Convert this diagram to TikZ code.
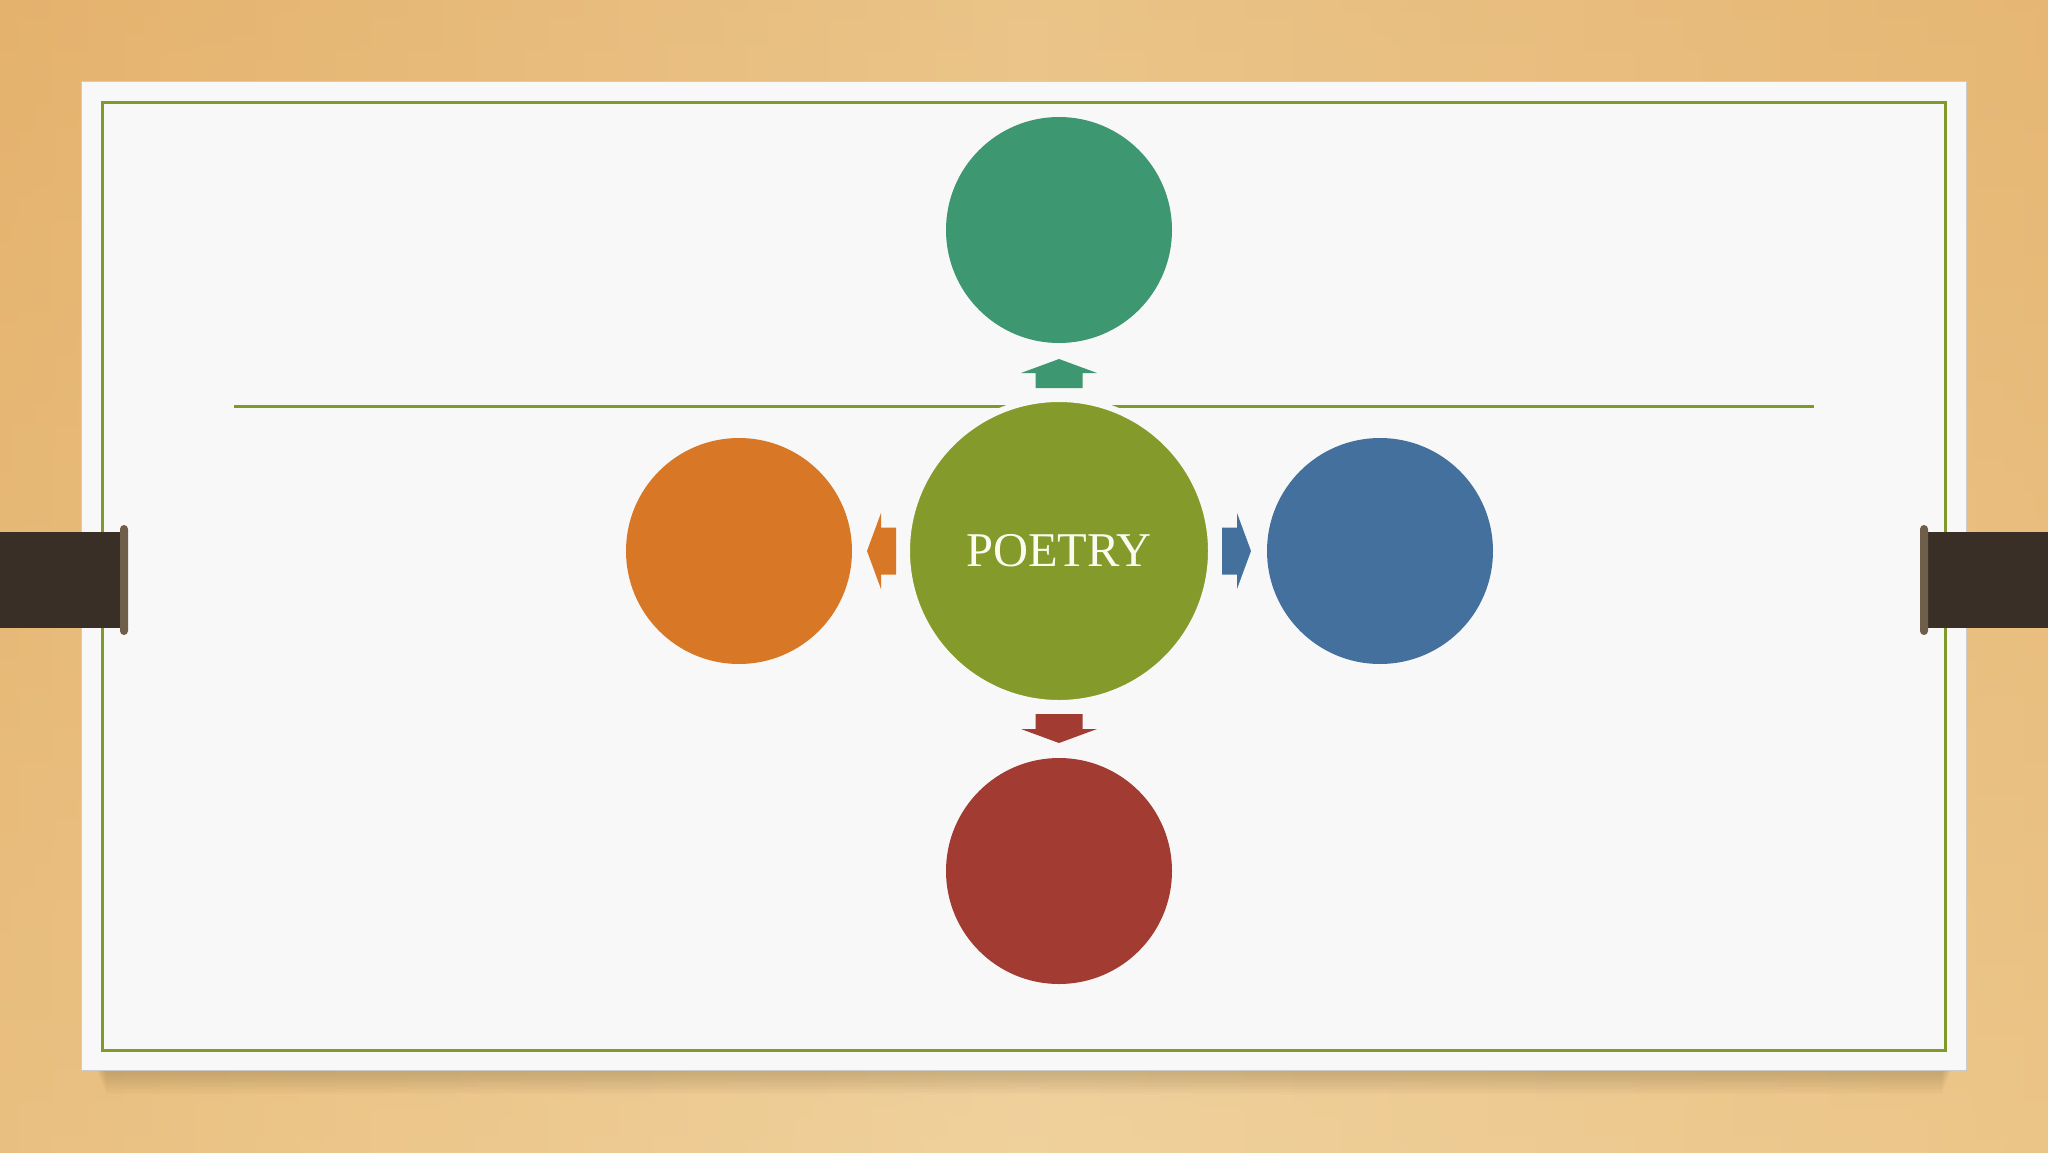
\documentclass[tikz,border=0pt]{standalone}
\usepackage{fontspec}
\newfontfamily\poetryfont{Liberation Serif}
\definecolor{woodA}{HTML}{E6B570}
\definecolor{woodB}{HTML}{F0D29E}
\definecolor{woodC}{HTML}{E9BD7C}
\definecolor{woodTop}{HTML}{E2AE68}
\definecolor{woodBot}{HTML}{EFD09A}
\definecolor{paper}{HTML}{F8F8F8}
\definecolor{frame}{HTML}{7F9A2B}
\definecolor{cgreen}{HTML}{849A2A}
\definecolor{cteal}{HTML}{3D9770}
\definecolor{corange}{HTML}{D87726}
\definecolor{cblue}{HTML}{44709D}
\definecolor{cred}{HTML}{A23B32}
\definecolor{clip}{HTML}{3A2F27}
\definecolor{knob}{HTML}{6E5E4A}
\definecolor{textcol}{HTML}{FBFBF0}
\tikzset{
  bubble/.style={circle, minimum size=226pt, inner sep=0pt, draw=none},
  hub/.style={circle, minimum size=304pt, inner sep=0pt, fill=cgreen, draw=paper, line width=6pt,
    text=textcol, font=\poetryfont\fontsize{48.5}{50}\selectfont},
  blockarrow/.pic={\fill[pic actions] (163,-23.5) -- (178,-23.5) -- (178,-38) -- (192,0) -- (178,38) -- (178,23.5) -- (163,23.5) -- cycle;},
  clipbar/.style={fill=clip},
  clipknob/.style={fill=knob, rounded corners=4pt}
}
\begin{document}
\begin{tikzpicture}[x=1pt,y=-1pt]
\useasboundingbox (0,0) rectangle (2048,1152);
% wood background
\shade[top color=woodTop, bottom color=woodBot] (0,0) rectangle (2048,1152);
\shade[left color=woodA, right color=woodC, middle color=woodB, opacity=0.6] (0,0) rectangle (2048,1152);
% paper shadow
\foreach \i in {1,...,10}{
  \fill[black!70!brown, opacity=0.018] (96+\i,1062) rectangle (1952-\i,1070+2.4*\i);
}
% paper
\fill[paper, draw=black!20, line width=0.8pt] (81,81) rectangle (1966,1070);
\draw[frame, line width=3pt] (102,102) rectangle (1945,1050);
% clips
\fill[clipbar] (0,532) rectangle (126,628);
\fill[clipknob] (120,525) rectangle (128,635);
\fill[clipbar] (1923,532) rectangle (2048,628);
\fill[clipknob] (1920,525) rectangle (1928,635);
% horizontal line
\coordinate (hl) at (234,406);
\coordinate (hr) at (1814,406);
\draw[frame, line width=3pt] (hl) -- (hr);
% circles
\node[hub] (poetry) at (1059,551) {POETRY};
\node[bubble, fill=cteal] (top) at (1059,230) {};
\node[bubble, fill=corange] (left) at (739,551) {};
\node[bubble, fill=cblue] (right) at (1380,551) {};
\node[bubble, fill=cred] (bottom) at (1059,871) {};
% arrows
\pic[fill=cteal, rotate=90] at (poetry.center) {blockarrow};
\pic[fill=corange, rotate=180] at (poetry.center) {blockarrow};
\pic[fill=cblue] at (poetry.center) {blockarrow};
\pic[fill=cred, rotate=-90] at (poetry.center) {blockarrow};
\end{tikzpicture}
\end{document}
